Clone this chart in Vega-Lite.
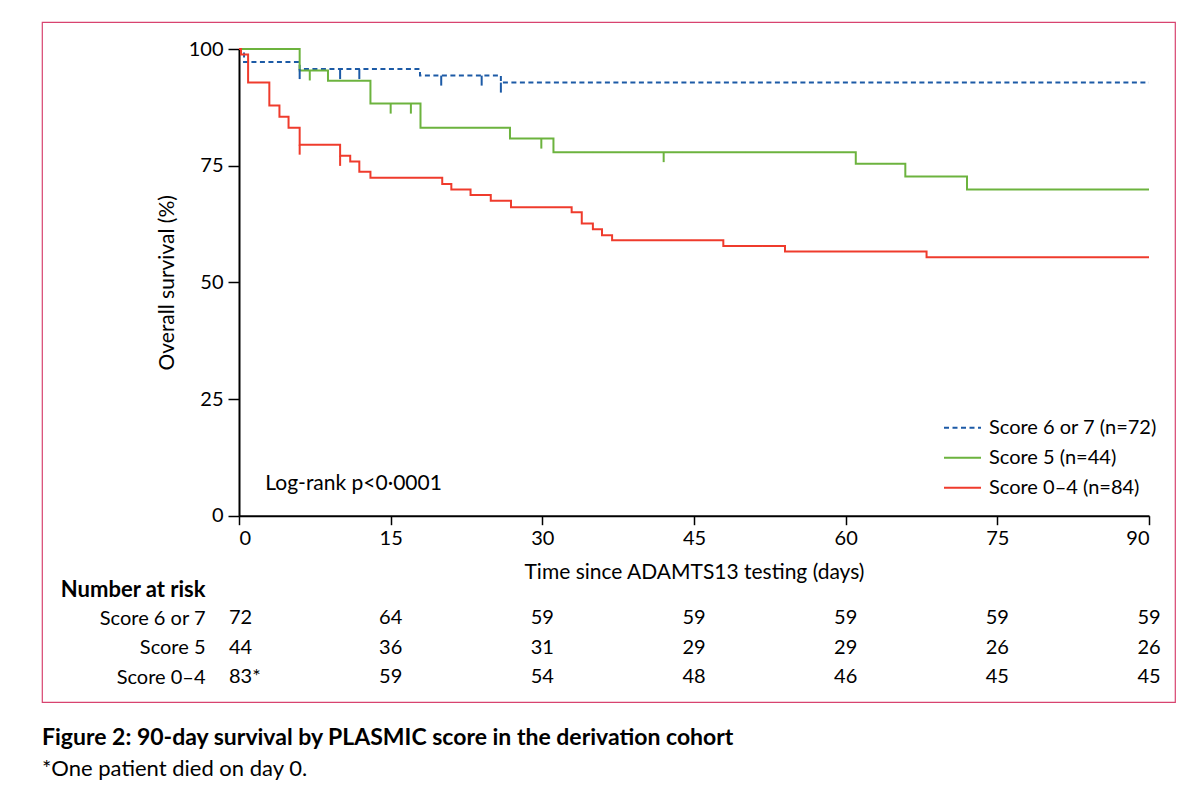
{
  "$schema": "https://vega.github.io/schema/vega-lite/v6.json",
  "width": 1133,
  "height": 680,
  "autosize": {"type": "none"},
  "padding": {"left": 42, "top": 22, "right": 25, "bottom": 92},
  "background": "white",
  "config": {
    "font": "Lato",
    "view": {"stroke": "#d8436f", "strokeWidth": 1.2},
    "axis": {"grid": false, "labelColor": "black", "titleColor": "black", "domainColor": "black", "tickColor": "black", "labelFontSize": 20, "titleFontSize": 21, "titleFontWeight": "normal"}
  },
  "title": {
    "text": "Figure 2: 90-day survival by PLASMIC score in the derivation cohort",
    "subtitle": "*One patient died on day 0.",
    "orient": "bottom",
    "anchor": "start",
    "frame": "group",
    "fontSize": 23,
    "fontWeight": "bold",
    "color": "black",
    "subtitleFontSize": 22,
    "subtitleColor": "black",
    "offset": 25,
    "subtitlePadding": 9
  },
  "datasets": {
    "km": [
      {"group": "Score 6 or 7 (n=72)", "day": 0, "pct": 100},
      {"group": "Score 6 or 7 (n=72)", "day": 0.5, "pct": 97.2},
      {"group": "Score 6 or 7 (n=72)", "day": 6.0, "pct": 95.7},
      {"group": "Score 6 or 7 (n=72)", "day": 17.9, "pct": 94.3},
      {"group": "Score 6 or 7 (n=72)", "day": 25.9, "pct": 92.8},
      {"group": "Score 6 or 7 (n=72)", "day": 90, "pct": 92.8},
      {"group": "Score 5 (n=44)", "day": 0, "pct": 100},
      {"group": "Score 5 (n=44)", "day": 6.0, "pct": 95.4},
      {"group": "Score 5 (n=44)", "day": 8.8, "pct": 93.2},
      {"group": "Score 5 (n=44)", "day": 13.0, "pct": 88.3},
      {"group": "Score 5 (n=44)", "day": 17.95, "pct": 83.1},
      {"group": "Score 5 (n=44)", "day": 26.8, "pct": 80.8},
      {"group": "Score 5 (n=44)", "day": 31.1, "pct": 77.9},
      {"group": "Score 5 (n=44)", "day": 61.0, "pct": 75.4},
      {"group": "Score 5 (n=44)", "day": 65.9, "pct": 72.7},
      {"group": "Score 5 (n=44)", "day": 72.0, "pct": 69.9},
      {"group": "Score 5 (n=44)", "day": 90, "pct": 69.9},
      {"group": "Score 0–4 (n=84)", "day": 0, "pct": 100},
      {"group": "Score 0–4 (n=84)", "day": 0.2, "pct": 98.8},
      {"group": "Score 0–4 (n=84)", "day": 0.9, "pct": 92.8},
      {"group": "Score 0–4 (n=84)", "day": 3.0, "pct": 87.9},
      {"group": "Score 0–4 (n=84)", "day": 4.0, "pct": 85.5},
      {"group": "Score 0–4 (n=84)", "day": 4.9, "pct": 83.1},
      {"group": "Score 0–4 (n=84)", "day": 6.0, "pct": 79.5},
      {"group": "Score 0–4 (n=84)", "day": 10.0, "pct": 77.1},
      {"group": "Score 0–4 (n=84)", "day": 11.0, "pct": 75.9},
      {"group": "Score 0–4 (n=84)", "day": 11.9, "pct": 73.7},
      {"group": "Score 0–4 (n=84)", "day": 13.0, "pct": 72.4},
      {"group": "Score 0–4 (n=84)", "day": 20.1, "pct": 71.1},
      {"group": "Score 0–4 (n=84)", "day": 21.0, "pct": 69.9},
      {"group": "Score 0–4 (n=84)", "day": 22.9, "pct": 68.7},
      {"group": "Score 0–4 (n=84)", "day": 24.9, "pct": 67.5},
      {"group": "Score 0–4 (n=84)", "day": 26.9, "pct": 66.1},
      {"group": "Score 0–4 (n=84)", "day": 32.9, "pct": 65.0},
      {"group": "Score 0–4 (n=84)", "day": 33.9, "pct": 62.6},
      {"group": "Score 0–4 (n=84)", "day": 35.0, "pct": 61.4},
      {"group": "Score 0–4 (n=84)", "day": 35.9, "pct": 60.1},
      {"group": "Score 0–4 (n=84)", "day": 36.9, "pct": 59.0},
      {"group": "Score 0–4 (n=84)", "day": 47.9, "pct": 57.8},
      {"group": "Score 0–4 (n=84)", "day": 54.0, "pct": 56.6},
      {"group": "Score 0–4 (n=84)", "day": 68.0, "pct": 55.4},
      {"group": "Score 0–4 (n=84)", "day": 90, "pct": 55.4}
    ],
    "censor": [
      {"group": "Score 6 or 7 (n=72)", "day": 6.0, "pct": 95.7},
      {"group": "Score 6 or 7 (n=72)", "day": 10.0, "pct": 95.7},
      {"group": "Score 6 or 7 (n=72)", "day": 11.9, "pct": 95.7},
      {"group": "Score 6 or 7 (n=72)", "day": 20.0, "pct": 94.3},
      {"group": "Score 6 or 7 (n=72)", "day": 24.0, "pct": 94.3},
      {"group": "Score 6 or 7 (n=72)", "day": 25.9, "pct": 92.8},
      {"group": "Score 5 (n=44)", "day": 7.0, "pct": 95.4},
      {"group": "Score 5 (n=44)", "day": 15.0, "pct": 88.3},
      {"group": "Score 5 (n=44)", "day": 17.0, "pct": 88.3},
      {"group": "Score 5 (n=44)", "day": 29.9, "pct": 80.8},
      {"group": "Score 5 (n=44)", "day": 42.0, "pct": 77.9},
      {"group": "Score 0–4 (n=84)", "day": 6.0, "pct": 79.5},
      {"group": "Score 0–4 (n=84)", "day": 10.0, "pct": 77.1}
    ],
    "risk": [
      {"row": "Score 6 or 7", "day": 0, "n": "72"},
      {"row": "Score 6 or 7", "day": 15, "n": "64"},
      {"row": "Score 6 or 7", "day": 30, "n": "59"},
      {"row": "Score 6 or 7", "day": 45, "n": "59"},
      {"row": "Score 6 or 7", "day": 60, "n": "59"},
      {"row": "Score 6 or 7", "day": 75, "n": "59"},
      {"row": "Score 6 or 7", "day": 90, "n": "59"},
      {"row": "Score 5", "day": 0, "n": "44"},
      {"row": "Score 5", "day": 15, "n": "36"},
      {"row": "Score 5", "day": 30, "n": "31"},
      {"row": "Score 5", "day": 45, "n": "29"},
      {"row": "Score 5", "day": 60, "n": "29"},
      {"row": "Score 5", "day": 75, "n": "26"},
      {"row": "Score 5", "day": 90, "n": "26"},
      {"row": "Score 0–4", "day": 0, "n": "83*"},
      {"row": "Score 0–4", "day": 15, "n": "59"},
      {"row": "Score 0–4", "day": 30, "n": "54"},
      {"row": "Score 0–4", "day": 45, "n": "48"},
      {"row": "Score 0–4", "day": 60, "n": "46"},
      {"row": "Score 0–4", "day": 75, "n": "45"},
      {"row": "Score 0–4", "day": 90, "n": "45"}
    ]
  },
  "layer": [
    {
      "layer": [
        {
          "data": {"name": "km"},
          "mark": {"type": "line", "interpolate": "step-after", "strokeWidth": 2},
          "encoding": {
            "x": {
              "field": "day", "type": "quantitative",
              "scale": {"domain": [0, 90], "range": [197, 1107], "nice": false, "zero": false},
              "axis": {"orient": "bottom", "offset": -186.3, "values": [0, 15, 30, 45, 60, 75, 90], "title": "Time since ADAMTS13 testing (days)", "titlePadding": 13, "tickSize": 9, "tickWidth": 1.5, "domainWidth": 2, "labelPadding": 4}
            },
            "y": {
              "field": "pct", "type": "quantitative",
              "scale": {"domain": [0, 100], "range": [493.7, 27], "nice": false},
              "axis": {"orient": "left", "offset": -197, "values": [0, 25, 50, 75, 100], "title": "Overall survival (%)", "titleX": -62, "tickSize": 11, "tickWidth": 1.5, "domainWidth": 2, "labelPadding": 5}
            },
            "color": {
              "field": "group", "type": "nominal",
              "scale": {"domain": ["Score 6 or 7 (n=72)", "Score 5 (n=44)", "Score 0–4 (n=84)"], "range": ["#1c5aa6", "#6cb33e", "#ef3b2c"]},
              "legend": {"orient": "none", "legendX": 901, "legendY": 391, "title": null, "symbolType": "stroke", "symbolSize": 1369, "symbolStrokeWidth": 2, "labelFontSize": 20, "labelColor": "black", "labelOffset": 7, "rowPadding": 0, "clipHeight": 29.5, "padding": 0, "labelLimit": 300}
            },
            "strokeDash": {
              "field": "group", "type": "nominal",
              "scale": {"domain": ["Score 6 or 7 (n=72)", "Score 5 (n=44)", "Score 0–4 (n=84)"], "range": [[5, 3.5], [1, 0], [1, 0]]},
              "legend": {"orient": "none", "legendX": 901, "legendY": 391, "title": null, "symbolType": "stroke", "symbolSize": 1369, "symbolStrokeWidth": 2, "labelFontSize": 20, "labelColor": "black", "labelOffset": 7, "rowPadding": 0, "clipHeight": 29.5, "padding": 0, "labelLimit": 300}
            }
          }
        },
        {
          "data": {"name": "censor"},
          "mark": {"type": "tick", "orient": "vertical", "size": 10, "thickness": 2, "yOffset": 5, "opacity": 1},
          "encoding": {
            "x": {"field": "day", "type": "quantitative"},
            "y": {"field": "pct", "type": "quantitative"},
            "color": {"field": "group", "type": "nominal"}
          }
        },
        {
          "data": {"values": [{}]},
          "mark": {"type": "text", "align": "left", "baseline": "middle", "fontSize": 21, "color": "black"},
          "encoding": {
            "x": {"datum": 2.6},
            "y": {"datum": 6.8},
            "text": {"value": "Log-rank p<0·0001"}
          }
        }
      ]
    },
    {
      "data": {"name": "risk"},
      "layer": [
        {
          "transform": [{"filter": "datum.day == 0"}],
          "mark": {"type": "text", "align": "left", "dx": -10, "baseline": "middle", "fontSize": 20, "color": "black"},
          "encoding": {
            "x": {"field": "day", "type": "quantitative"},
            "y": {
              "field": "row", "type": "nominal",
              "scale": {"type": "point", "domain": ["Number at risk", "Score 6 or 7", "Score 5", "Score 0–4"], "range": [567, 655], "padding": 0},
              "axis": {"orient": "left", "title": null, "domain": false, "ticks": false, "labelPadding": 0, "offset": -163, "labelLimit": 300, "labelBaseline": "middle",
                "labelFontSize": {"condition": {"test": "datum.value === 'Number at risk'", "value": 22}, "value": 20},
                "labelFontWeight": {"condition": {"test": "datum.value === 'Number at risk'", "value": "bold"}, "value": "normal"}}
            },
            "text": {"field": "n", "type": "nominal"}
          }
        },
        {
          "transform": [{"filter": "datum.day > 0"}],
          "mark": {"type": "text", "align": "center", "baseline": "middle", "fontSize": 20, "color": "black"},
          "encoding": {
            "x": {"field": "day", "type": "quantitative"},
            "y": {"field": "row", "type": "nominal"},
            "text": {"field": "n", "type": "nominal"}
          }
        }
      ]
    }
  ],
  "resolve": {"scale": {"y": "independent"}, "axis": {"y": "independent"}}
}
